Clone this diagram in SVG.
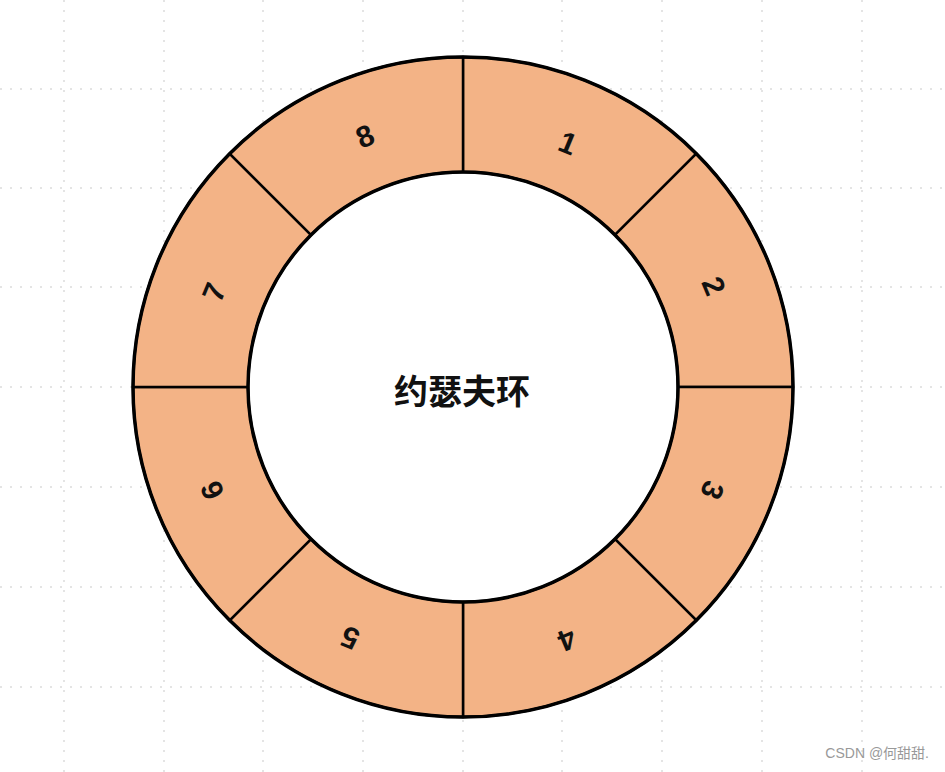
<svg xmlns="http://www.w3.org/2000/svg" width="945" height="772" viewBox="0 0 945 772">
<style>
.grid line{stroke:#dcdcdc;stroke-width:1.5;stroke-dasharray:2 8}
.seg path{fill:#F3B386;stroke:#000;stroke-width:2.5;stroke-linejoin:round}
.num{font-family:"Liberation Sans",Arial,sans-serif;font-weight:bold;font-size:30px;fill:#111;text-anchor:middle;dominant-baseline:central}
.ring{fill:none;stroke:#000;stroke-width:3.5}
</style>
<rect width="945" height="772" fill="#fff"/>
<g class="grid">
<line x1="64" y1="0" x2="64" y2="772"/><line x1="164" y1="0" x2="164" y2="772"/><line x1="263" y1="0" x2="263" y2="772"/><line x1="363" y1="0" x2="363" y2="772"/><line x1="463" y1="0" x2="463" y2="772"/><line x1="562" y1="0" x2="562" y2="772"/><line x1="662" y1="0" x2="662" y2="772"/><line x1="762" y1="0" x2="762" y2="772"/><line x1="862" y1="0" x2="862" y2="772"/>
<line x1="0" y1="89" x2="945" y2="89"/><line x1="0" y1="188" x2="945" y2="188"/><line x1="0" y1="287" x2="945" y2="287"/><line x1="0" y1="387" x2="945" y2="387"/><line x1="0" y1="487" x2="945" y2="487"/><line x1="0" y1="587" x2="945" y2="587"/><line x1="0" y1="687" x2="945" y2="687"/>
</g>
<circle cx="463" cy="387" r="215" fill="#fff"/>
<g id="seg1" class="seg"><path d="M463,57 A330,330 0 0 1 696.35,153.65 L615.03,234.97 A215,215 0 0 0 463,172 Z"/><text class="num" x="568" y="143" transform="rotate(22.5 568 143)">1</text></g>
<g id="seg2" class="seg"><path d="M696.35,153.65 A330,330 0 0 1 793,387 L678,387 A215,215 0 0 0 615.03,234.97 Z"/><text class="num" x="714" y="286" transform="rotate(67.5 714 286)">2</text></g>
<g id="seg3" class="seg"><path d="M793,387 A330,330 0 0 1 696.35,620.35 L615.03,539.03 A215,215 0 0 0 678,387 Z"/><text class="num" x="712.4" y="490.3" transform="rotate(112.5 712.4 490.3)">3</text></g>
<g id="seg4" class="seg"><path d="M696.35,620.35 A330,330 0 0 1 463,717 L463,602 A215,215 0 0 0 615.03,539.03 Z"/><text class="num" x="567" y="640" transform="rotate(157.5 567 640)">4</text></g>
<g id="seg5" class="seg"><path d="M463,717 A330,330 0 0 1 229.65,620.35 L310.97,539.03 A215,215 0 0 0 463,602 Z"/><text class="num" x="350" y="638" transform="rotate(202.5 350 638)">5</text></g>
<g id="seg6" class="seg"><path d="M229.65,620.35 A330,330 0 0 1 133,387 L248,387 A215,215 0 0 0 310.97,539.03 Z"/><text class="num" x="212" y="490.3" transform="rotate(247.5 212 490.3)">6</text></g>
<g id="seg7" class="seg"><path d="M133,387 A330,330 0 0 1 229.65,153.65 L310.97,234.97 A215,215 0 0 0 248,387 Z"/><text class="num" x="214" y="292" transform="rotate(292.5 214 292)">7</text></g>
<g id="seg8" class="seg"><path d="M229.65,153.65 A330,330 0 0 1 463,57 L463,172 A215,215 0 0 0 310.97,234.97 Z"/><text class="num" x="365" y="136" transform="rotate(337.5 365 136)">8</text></g>
<g id="rings">
<circle class="ring" cx="463" cy="387" r="330"/>
<circle class="ring" cx="463" cy="387" r="215"/>
</g>
<g id="title"><text x="462" y="389" font-family="'Noto Sans CJK SC','Liberation Sans',sans-serif" font-weight="bold" font-size="34" fill="#111" text-anchor="middle" dominant-baseline="central">约瑟夫环</text></g>
<text x="929" y="758" font-family="'Liberation Sans','Noto Sans CJK SC',sans-serif" font-size="14" fill="#999" text-anchor="end">CSDN @何甜甜.</text>
</svg>
